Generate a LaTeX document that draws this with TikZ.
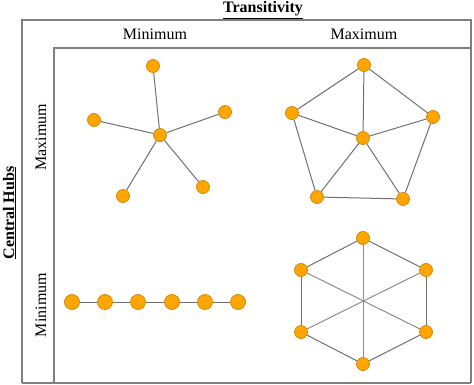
\documentclass[tikz,border=0pt]{standalone}
\usepackage{fontspec}
\setmainfont{Liberation Serif}
\usepackage{tikz}

\definecolor{hubfill}{HTML}{FFA500}
\definecolor{hubline}{HTML}{D08C10}
\definecolor{linkgray}{HTML}{707070}
\definecolor{framegray}{HTML}{808080}

\tikzset{
  hub/.style={circle,fill=hubfill,draw=hubline,line width=0.8pt,minimum size=13pt,inner sep=0pt},
  bighub/.style={hub,minimum size=15pt},
  link/.style={draw=linkgray,line width=1pt},
  heading/.style={font=\fontsize{16}{18}\selectfont,anchor=base,inner sep=0pt},
}

\begin{document}
\begin{tikzpicture}[x=1pt,y=-1pt]
        \useasboundingbox (0,0) rectangle (474,385);
        % frames
        \draw[framegray,line width=1.5pt] (22,383) -- (22,20) -- (471,20) -- (471,383);
        \draw[framegray,line width=1.5pt] (54,383) -- (54,48) -- (471,48);
        \draw[framegray,line width=2.5pt] (22,383) -- (471,383);
        % headings
        \node[heading] (title) at (263,13) {\underline{\textbf{Transitivity}}};
        \node[heading] (colmin) at (155,40) {Minimum};
        \node[heading] (colmax) at (364,40) {Maximum};
        \node[heading,rotate=90] (hubs) at (14,213) {\underline{\textbf{Central Hubs}}};
        \node[heading,rotate=90] (rowmax) at (46,137) {Maximum};
        \node[heading,rotate=90] (rowmin) at (46,305) {Minimum};
        % star
        \node[hub] (s0) at (160,135) {};
        \node[hub] (s1) at (153,66) {};
        \node[hub] (s2) at (225,112) {};
        \node[hub] (s3) at (203,187) {};
        \node[hub] (s4) at (123,196) {};
        \node[hub] (s5) at (94,120) {};
        \foreach \i in {1,...,5}
            \draw[link] (s0) -- (s\i);
        % wheel
        \node[hub] (w0) at (363,138) {};
        \node[hub] (w1) at (364,65) {};
        \node[hub] (w2) at (433,117) {};
        \node[hub] (w3) at (403,199) {};
        \node[hub] (w4) at (317,197) {};
        \node[hub] (w5) at (292,113) {};
        \foreach \i/\j in {1/2,2/3,3/4,4/5,5/1}
            \draw[link] (w0) -- (w\i) (w\i) -- (w\j);
        % chain
        \foreach \i/\x in {1/72,2/105,3/138,4/172,5/205,6/238}
            \node[bighub] (c\i) at (\x,302) {};
        \foreach \i/\j in {1/2,2/3,3/4,4/5,5/6}
            \draw[link] (c\i) -- (c\j);
        % hexagon
        \node[hub] (h1) at (363,238) {};
        \node[hub] (h2) at (426,270) {};
        \node[hub] (h3) at (426,332) {};
        \node[hub] (h4) at (363,364) {};
        \node[hub] (h5) at (301,332) {};
        \node[hub] (h6) at (301,270) {};
        \foreach \i/\j in {1/2,2/3,3/4,4/5,5/6,6/1}
            \draw[link] (h\i) -- (h\j);
        \foreach \i/\j in {1/4,2/5,3/6}
            \draw[link,linkgray!80] (h\i) -- (h\j);
    \end{tikzpicture}
\end{document}
